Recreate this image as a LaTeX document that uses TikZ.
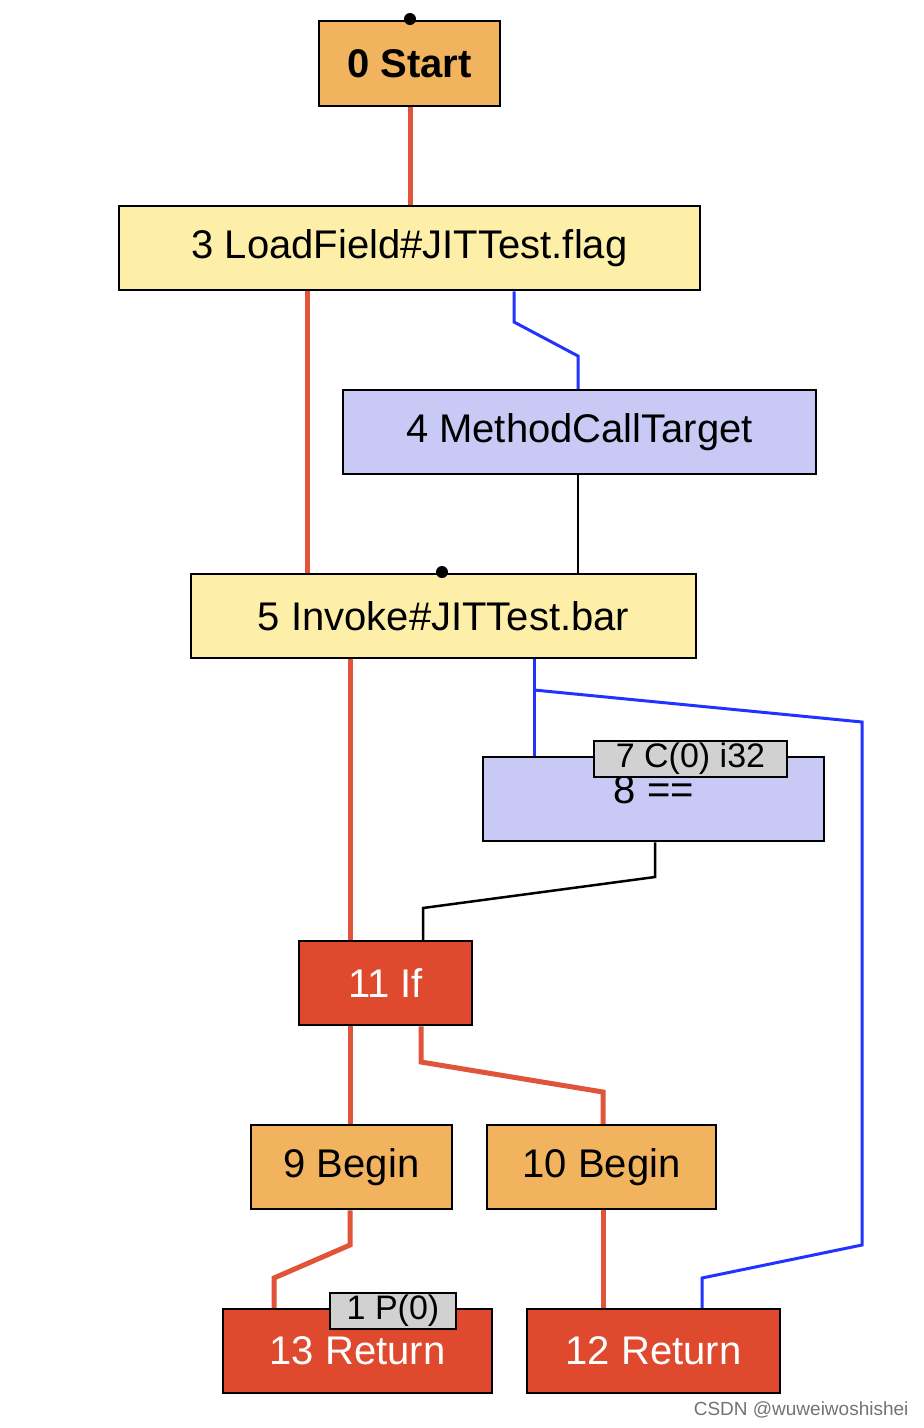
\documentclass[tikz,border=0pt]{standalone}
\usepackage{fontspec}
\setmainfont{Liberation Sans}
\usetikzlibrary{calc}
\definecolor{cOr}{HTML}{F2B35E}
\definecolor{cYe}{HTML}{FDEFA8}
\definecolor{cLa}{HTML}{C8CAF5}
\definecolor{cRe}{HTML}{DF4A2F}
\definecolor{cEr}{HTML}{E0553A}
\definecolor{cBl}{HTML}{2233FF}
\begin{document}
\begin{tikzpicture}[x=1pt,y=-1pt,
 box/.style={draw=black,line width=2.5pt,inner sep=0pt,font=\fontsize{40}{48}\selectfont},
 lbl/.style={draw=black,fill=black!18,line width=2pt,inner sep=0pt,font=\fontsize{34}{34}\selectfont},
 ctl/.style={cEr,line width=5pt},
 dat/.style={cBl,line width=3pt},
 dep/.style={black,line width=2.5pt}]
\fill[white] (0,0) rectangle (924,1428);
\useasboundingbox (0,0) rectangle (924,1428);
\node[box,fill=cOr,minimum width=181,minimum height=85,font=\fontsize{40}{48}\selectfont\bfseries] (n0) at (409.5,63.5) {0 Start};
\node[box,fill=cYe,minimum width=581,minimum height=84] (n3) at (409.5,248) {3 LoadField\#JITTest.flag};
\node[box,fill=cLa,minimum width=473,minimum height=84] (n4) at (579.5,432) {4 MethodCallTarget};
\node[box,fill=cYe,minimum width=505,minimum height=84] (n5) at (443.5,616) {5 Invoke\#JITTest.bar};
\node[box,fill=cLa,minimum width=341,minimum height=84] (n8) at (653.5,799) {};
\node[font=\fontsize{40}{40}\selectfont] (t8) at (654,790) {8 ==};
\node[lbl,minimum width=193,minimum height=36] (l7) at (690.5,759) {7 C(0) i32};
\node[box,fill=cRe,text=white,minimum width=173,minimum height=84] (n11) at (385.5,983) {11 If};
\node[box,fill=cOr,minimum width=201,minimum height=84] (n9) at (351.5,1167) {9 Begin};
\node[box,fill=cOr,minimum width=229,minimum height=84] (n10) at (601.5,1167) {10 Begin};
\node[box,fill=cRe,text=white,minimum width=269,minimum height=84] (n13) at (357.5,1351) {13 Return};
\node[lbl,minimum width=126,minimum height=36] (l1) at (393,1311) {1 P(0)};
\node[box,fill=cRe,text=white,minimum width=253,minimum height=84] (n12) at (653.5,1351) {12 Return};
\fill (410,19) circle (6);
\fill (442,572) circle (6);
% connectors
\begin{scope}[on background layer/.style={}]
\end{scope}
\draw[ctl] ([xshift=0.5]n0.south) -- ([xshift=0.5]n3.north);
\draw[ctl] ([xshift=-102.5]n3.south) -- ([xshift=-136.5]n5.north);
\draw[dat] ([xshift=104.5]n3.south) -- (514,322) -- (578,356) -- ([xshift=-1.5]n4.north);
\draw[dep] ([xshift=-1.5]n4.south) -- ([xshift=134.5]n5.north);
\draw[ctl] ([xshift=-93.5]n5.south) -- ([xshift=-35.5]n11.north);
\draw[dat] ([xshift=90.5]n5.south) -- ([xshift=-119.5]n8.north);
\draw[dat] (534,690) -- (862,722) -- (862,1245) -- (702,1278) -- ([xshift=48.5]n12.north);
\draw[dep] ([xshift=1.5]n8.south) -- (655,877) -- (423,908) -- ([xshift=37.5]n11.north);
\draw[ctl] ([xshift=-35.5]n11.south) -- ([xshift=-1.5]n9.north);
\draw[ctl] ([xshift=35.5]n11.south) -- (421,1062) -- (603,1092) -- ([xshift=1.5]n10.north);
\draw[ctl] ([xshift=-1.5]n9.south) -- (350,1245) -- (274,1278) -- ([xshift=-83.5]n13.north);
\draw[ctl] ([xshift=1.5]n10.south) -- ([xshift=-50.5]n12.north);
\node[text=black!55,anchor=south east,font=\fontsize{19}{19}\selectfont] (wm) at (912,1422) {CSDN @wuweiwoshishei};
\end{tikzpicture}
\end{document}
